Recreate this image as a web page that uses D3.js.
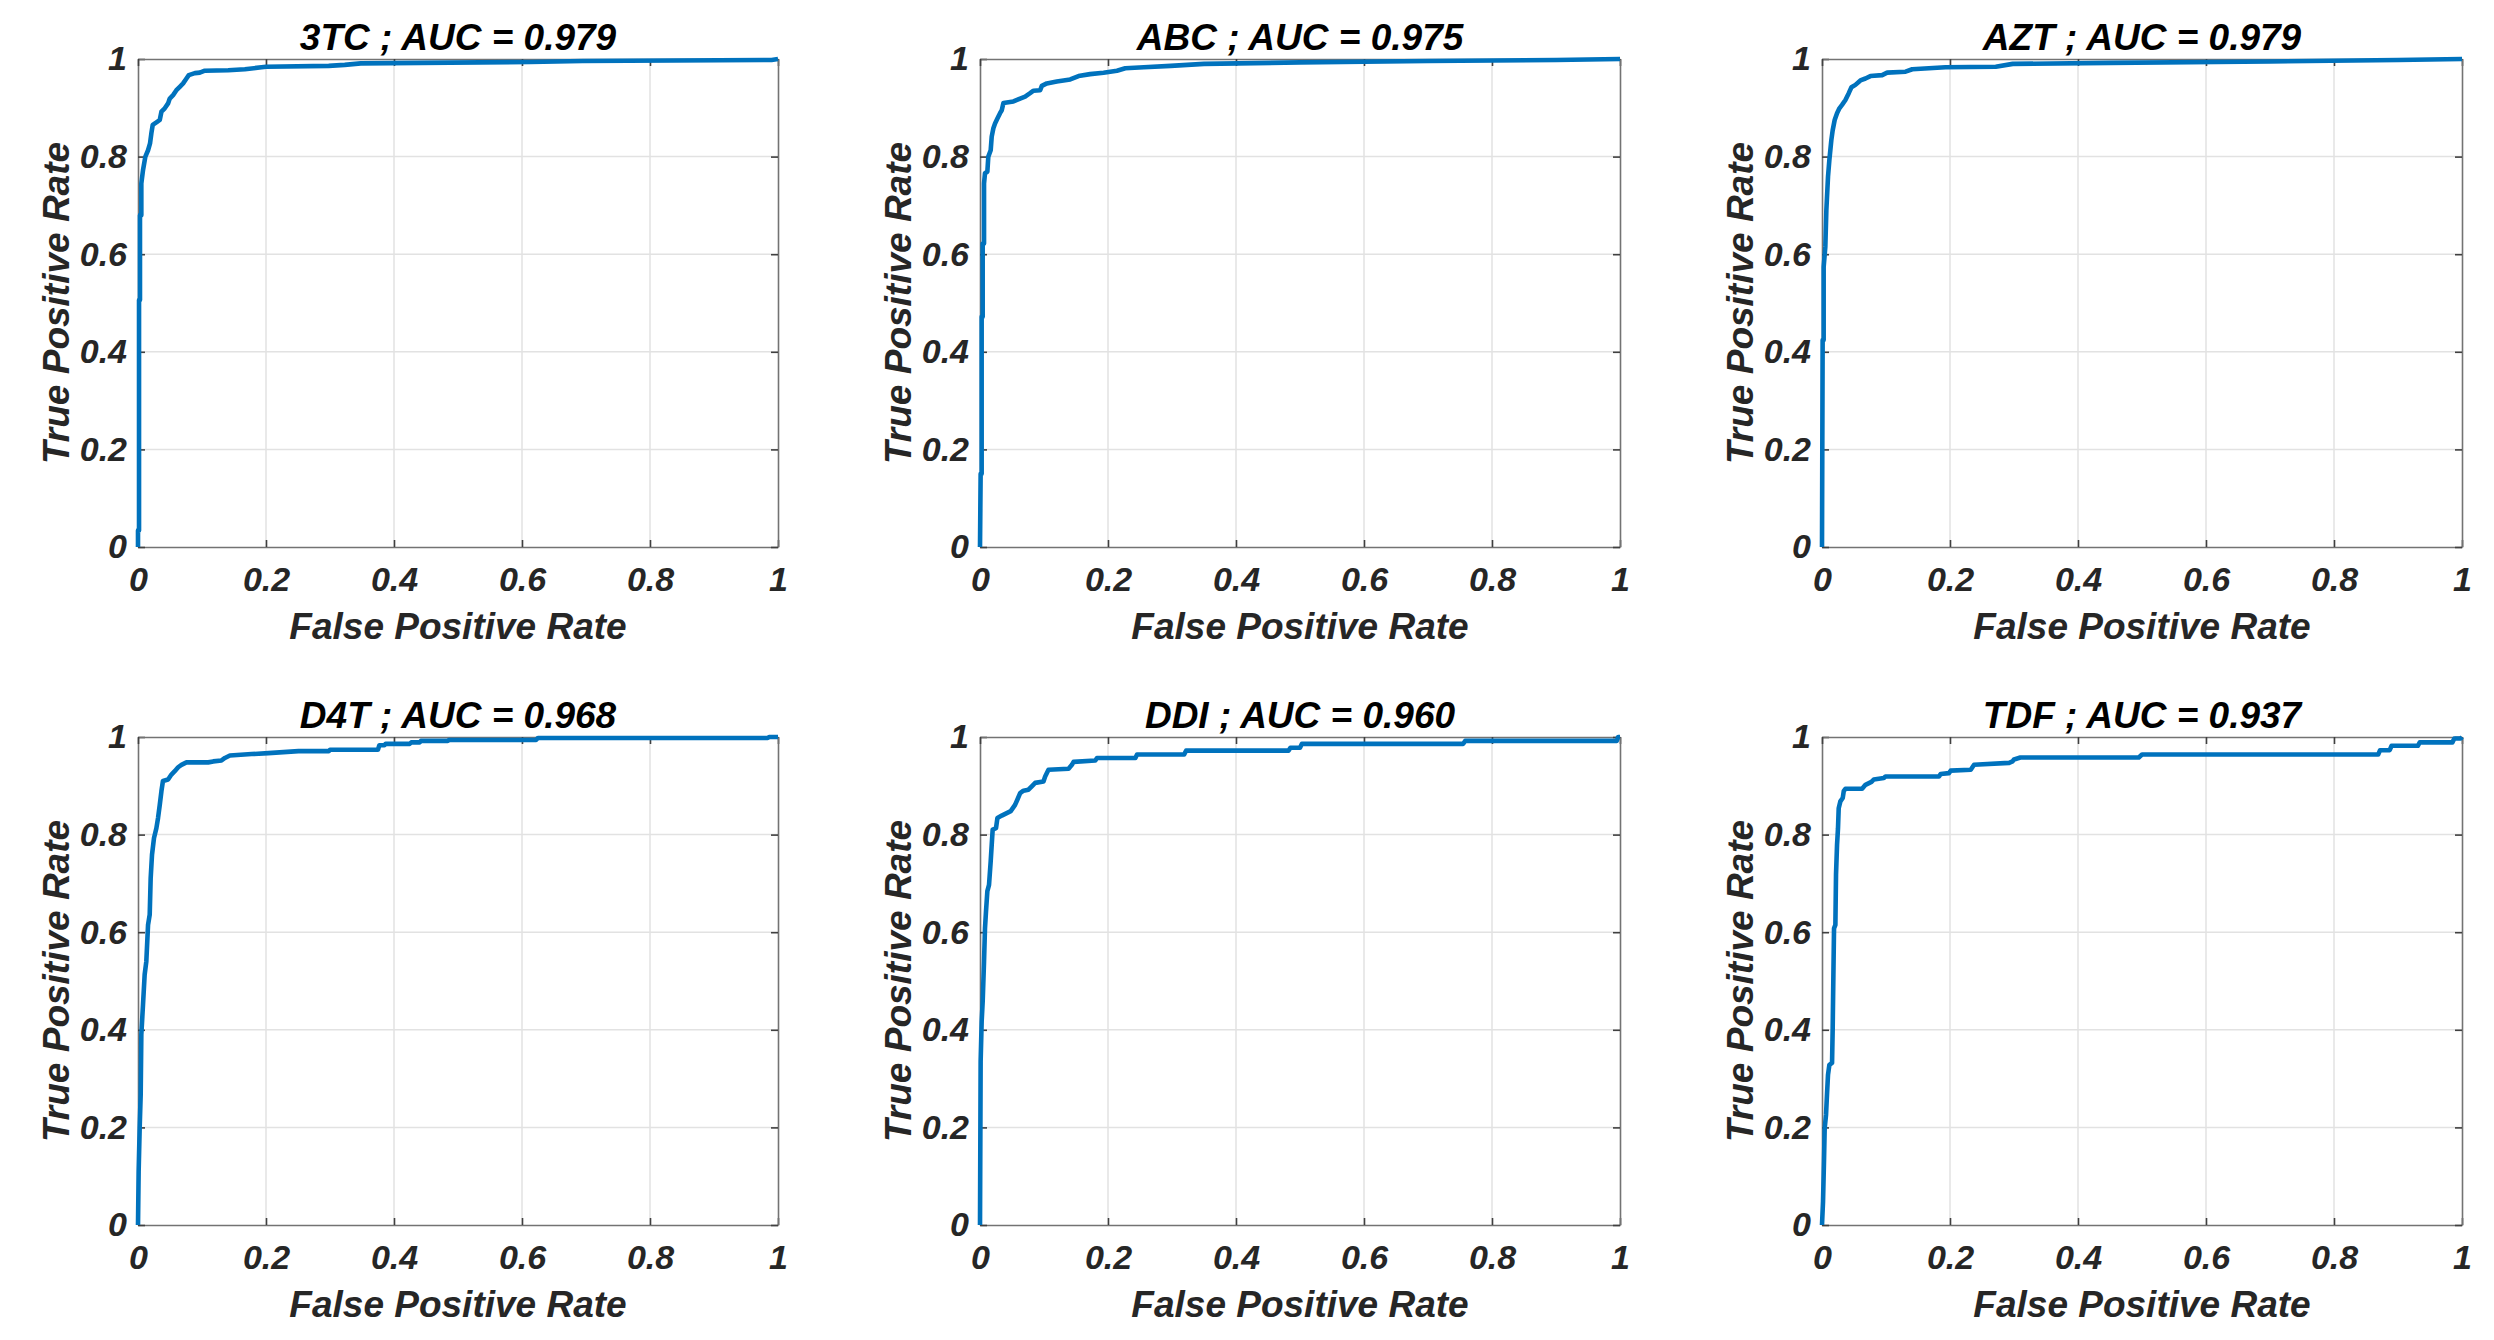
<!DOCTYPE html>
<html>
<head>
<meta charset="utf-8">
<script src="https://cdn.jsdelivr.net/npm/d3@7"></script>
<style>
  body { margin: 0; background: #fff; }
  svg { display: block; }
  .axis text { font-family: "Liberation Sans", Arial, sans-serif; font-weight: bold; font-style: italic; font-size: 34px; fill: #262626; }
  .axis path.domain { stroke: #737373; stroke-width: 1.6; }
  .axis line { stroke: #404040; stroke-width: 1.6; }
  .grid line { stroke: #e2e2e2; stroke-width: 1.5; }
  .title, .label { font-family: "Liberation Sans", Arial, sans-serif; font-weight: bold; font-style: italic; }
  .title { font-size: 37px; fill: #000; }
  .label { font-size: 37px; fill: #262626; }
  .roc { fill: none; stroke: #0072bd; stroke-width: 4.6; stroke-linejoin: round; }
</style>
</head>
<body>
<svg id="chart" width="2494" height="1340"></svg>
<script>
// Panel names and AUC values
const drugs = ["3TC", "ABC", "AZT", "D4T", "DDI", "TDF"];
const aucs = [0.979, 0.975, 0.979, 0.968, 0.96, 0.937];
const ticks = [0, 0.2, 0.4, 0.6, 0.8, 1];

// ROC points [fpr, tpr]
const roc3TC = [
  [0, 0], [0, 0.034], [0.0016, 0.034], [0.0016, 0.506], [0.0031, 0.506], [0.0031, 0.68],
  [0.0052, 0.68], [0.0052, 0.745], [0.0078, 0.772], [0.0115, 0.8], [0.0157, 0.813],
  [0.0188, 0.827], [0.0209, 0.848], [0.023, 0.865], [0.0287, 0.87], [0.034, 0.875],
  [0.0366, 0.892], [0.0418, 0.899], [0.047, 0.909], [0.0496, 0.919], [0.0548, 0.926],
  [0.06, 0.936], [0.0653, 0.943], [0.0705, 0.95], [0.0757, 0.96], [0.0794, 0.967],
  [0.0888, 0.971], [0.0966, 0.972], [0.1044, 0.976], [0.141, 0.977], [0.167, 0.979],
  [0.193, 0.983], [0.2, 0.984], [0.298, 0.986], [0.323, 0.988], [0.348, 0.991],
  [0.613, 0.994], [0.695, 0.996], [0.99, 0.998], [1, 1]
];
const rocABC = [
  [0, 0], [0.001, 0.15], [0.0026, 0.15], [0.0026, 0.472], [0.0042, 0.472], [0.0042, 0.622],
  [0.0063, 0.622], [0.0063, 0.745], [0.0078, 0.766], [0.0115, 0.769], [0.013, 0.8],
  [0.0167, 0.813], [0.0183, 0.841], [0.0209, 0.858], [0.0235, 0.868], [0.0272, 0.878],
  [0.0313, 0.889], [0.034, 0.895], [0.0366, 0.91], [0.0522, 0.913], [0.0627, 0.919],
  [0.0705, 0.923], [0.0783, 0.93], [0.0836, 0.935], [0.094, 0.936], [0.0966, 0.945],
  [0.1044, 0.95], [0.12, 0.954], [0.141, 0.958], [0.154, 0.965], [0.172, 0.969],
  [0.193, 0.972], [0.214, 0.976], [0.227, 0.981], [0.256, 0.983], [0.298, 0.986],
  [0.35, 0.99], [0.5, 0.993], [0.7, 0.996], [0.9, 0.998], [1, 1]
];
const rocAZT = [
  [0, 0], [0.001, 0.424], [0.0026, 0.424], [0.0026, 0.574], [0.0052, 0.615], [0.0068, 0.69],
  [0.0094, 0.759], [0.0115, 0.793], [0.0146, 0.834], [0.0167, 0.854], [0.0198, 0.875],
  [0.0235, 0.889], [0.0272, 0.899], [0.0313, 0.906], [0.0366, 0.916], [0.0418, 0.93],
  [0.046, 0.942], [0.0522, 0.947], [0.06, 0.956], [0.0679, 0.96], [0.0757, 0.965],
  [0.094, 0.967], [0.1018, 0.972], [0.1305, 0.974], [0.141, 0.979], [0.193, 0.983],
  [0.2715, 0.984], [0.298, 0.99], [0.45, 0.992], [0.7, 0.995], [0.9, 0.998], [1, 1]
];
const rocD4T = [
  [0, 0], [0.001, 0.109], [0.0026, 0.198], [0.0042, 0.267], [0.0052, 0.39], [0.0078, 0.451],
  [0.0104, 0.513], [0.013, 0.54], [0.0157, 0.615], [0.0183, 0.636], [0.0198, 0.711],
  [0.0219, 0.759], [0.025, 0.793], [0.0287, 0.813], [0.0313, 0.834], [0.034, 0.861],
  [0.0366, 0.889], [0.039, 0.91], [0.047, 0.913], [0.0522, 0.923], [0.0574, 0.93],
  [0.0627, 0.938], [0.0679, 0.943], [0.0757, 0.948], [0.1097, 0.948], [0.1175, 0.95],
  [0.1305, 0.952], [0.1358, 0.957], [0.1436, 0.962], [0.1775, 0.965], [0.2037, 0.967],
  [0.2507, 0.971], [0.298, 0.971], [0.3, 0.974], [0.375, 0.974], [0.377, 0.983],
  [0.385, 0.983], [0.387, 0.986], [0.4245, 0.986], [0.427, 0.989], [0.44, 0.989],
  [0.442, 0.992], [0.484, 0.992], [0.486, 0.994], [0.622, 0.994], [0.625, 0.998],
  [0.984, 0.998], [0.986, 1], [1, 1]
];
const rocDDI = [
  [0, 0], [0.001, 0.335], [0.0026, 0.417], [0.0042, 0.458], [0.0063, 0.54], [0.0078, 0.608],
  [0.0094, 0.643], [0.0115, 0.684], [0.0141, 0.697], [0.0167, 0.745], [0.0183, 0.779],
  [0.0198, 0.81], [0.025, 0.813], [0.0272, 0.834], [0.034, 0.839], [0.0418, 0.844],
  [0.048, 0.848], [0.0548, 0.861], [0.0585, 0.872], [0.0627, 0.885], [0.0679, 0.89],
  [0.0757, 0.892], [0.0809, 0.899], [0.0862, 0.906], [0.0992, 0.909], [0.1018, 0.919],
  [0.107, 0.933], [0.1384, 0.935], [0.1436, 0.943], [0.1462, 0.949], [0.1802, 0.952],
  [0.1828, 0.957], [0.2428, 0.957], [0.2454, 0.964], [0.319, 0.964], [0.322, 0.972],
  [0.482, 0.972], [0.485, 0.978], [0.5, 0.978], [0.503, 0.986], [0.755, 0.986],
  [0.758, 0.992], [0.995, 0.992], [0.997, 1], [1, 1]
];
const rocTDF = [
  [0, 0], [0.0016, 0.048], [0.0031, 0.13], [0.0042, 0.198], [0.0063, 0.226], [0.0078, 0.267],
  [0.0094, 0.308], [0.0115, 0.328], [0.0157, 0.332], [0.0167, 0.403], [0.0178, 0.513],
  [0.0188, 0.608], [0.0209, 0.615], [0.0219, 0.718], [0.0235, 0.779], [0.025, 0.813],
  [0.0261, 0.854], [0.0287, 0.868], [0.0324, 0.875], [0.034, 0.889], [0.0366, 0.894],
  [0.0627, 0.894], [0.0679, 0.902], [0.0773, 0.908], [0.0809, 0.913], [0.0966, 0.916],
  [0.0992, 0.919], [0.1828, 0.919], [0.1854, 0.924], [0.1984, 0.926], [0.201, 0.931],
  [0.2324, 0.933], [0.2376, 0.943], [0.2924, 0.947], [0.2977, 0.95], [0.3, 0.954],
  [0.31, 0.958], [0.495, 0.958], [0.5, 0.964], [0.869, 0.964], [0.872, 0.973],
  [0.887, 0.973], [0.89, 0.982], [0.931, 0.982], [0.934, 0.989], [0.985, 0.989],
  [0.988, 0.997], [0.998, 0.997], [1, 1]
];
const curves = [roc3TC, rocABC, rocAZT, rocD4T, rocDDI, rocTDF];

// Layout
const plotW = 640, plotH = 488;
const colX = [138, 980, 1822];
const rowY = [59, 737];
const tickLen = 7;

const svg = d3.select("#chart");

drugs.forEach((name, i) => {
  const x0 = colX[i % 3];
  const y0 = rowY[Math.floor(i / 3)];
  const g = svg.append("g").attr("transform", `translate(${x0},${y0})`);

  const x = d3.scaleLinear().domain([0, 1]).range([0, plotW]);
  const y = d3.scaleLinear().domain([0, 1]).range([plotH, 0]);

  // grid
  const grid = g.append("g").attr("class", "grid");
  grid.selectAll("line.v")
    .data(ticks.slice(1, -1))
    .join("line")
    .attr("class", "v")
    .attr("x1", (d) => x(d)).attr("x2", (d) => x(d))
    .attr("y1", 0).attr("y2", plotH);
  grid.selectAll("line.h")
    .data(ticks.slice(1, -1))
    .join("line")
    .attr("class", "h")
    .attr("x1", 0).attr("x2", plotW)
    .attr("y1", (d) => y(d)).attr("y2", (d) => y(d));

  // box with inward ticks on all sides
  g.append("g").attr("class", "axis")
    .attr("transform", `translate(0,${plotH})`)
    .call(d3.axisBottom(x).tickValues(ticks).tickSize(-tickLen).tickSizeOuter(0).tickPadding(20).tickFormat((d) => d));
  g.append("g").attr("class", "axis")
    .call(d3.axisLeft(y).tickValues(ticks).tickSize(-tickLen).tickSizeOuter(0).tickPadding(11).tickFormat((d) => d));
  g.append("g").attr("class", "axis")
    .call(d3.axisTop(x).tickValues(ticks).tickSize(-tickLen).tickSizeOuter(0).tickFormat(""));
  g.append("g").attr("class", "axis")
    .attr("transform", `translate(${plotW},0)`)
    .call(d3.axisRight(y).tickValues(ticks).tickSize(-tickLen).tickSizeOuter(0).tickFormat(""));

  // ROC curve
  const line = d3.line().x((d) => x(d[0])).y((d) => y(d[1]));
  g.append("path").datum(curves[i]).attr("class", "roc").attr("d", line);

  // texts
  g.append("text").attr("class", "title")
    .attr("x", plotW / 2).attr("y", -9)
    .attr("text-anchor", "middle")
    .text(`${name} ; AUC = ${aucs[i].toFixed(3)}`);
  g.append("text").attr("class", "label")
    .attr("x", plotW / 2).attr("y", plotH + 92)
    .attr("text-anchor", "middle")
    .text("False Positive Rate");
  g.append("text").attr("class", "label")
    .attr("transform", `translate(-69,${plotH / 2}) rotate(-90)`)
    .attr("text-anchor", "middle")
    .text("True Positive Rate");
});
</script>
</body>
</html>
